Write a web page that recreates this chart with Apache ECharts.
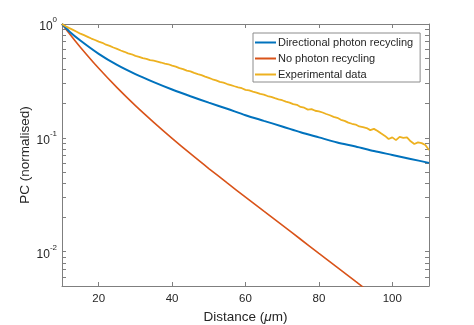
<!DOCTYPE html>
<html>
<head>
<meta charset="utf-8">
<script src="https://cdn.jsdelivr.net/npm/echarts@6/dist/echarts.min.js"></script>
<style>
  html, body { margin: 0; padding: 0; background: #ffffff; }
  #chart { width: 474px; height: 325px; }
</style>
</head>
<body>
<div id="chart"></div>
<script>
// Photocurrent decay with distance: two models and the measured profile.
const seriesNames = ['Directional photon recycling', 'No photon recycling', 'Experimental data'];
const seriesColors = ['#0072BD', '#D95319', '#EDB120'];

// Model: directional photon recycling
const directionalX = [10, 12, 15, 20, 25, 30, 35, 40, 45, 50, 55, 60, 65, 70, 75, 80, 85, 90, 95, 100, 105, 110];
const directional  = [1, 0.861, 0.716, 0.547, 0.437, 0.363, 0.309, 0.266, 0.232, 0.204, 0.180, 0.158,
                      0.141, 0.126, 0.112, 0.101, 0.0912, 0.0841, 0.0767, 0.0708, 0.0653, 0.0603];

// Model: no photon recycling
const noRecyclingX = [10, 12, 15, 20, 25, 30, 35, 40, 45, 50, 55, 60, 65, 70, 75, 80, 85, 90, 95, 100];
const noRecycling  = [1, 0.824, 0.625, 0.408, 0.276, 0.192, 0.137, 0.0991, 0.0726, 0.0538, 0.0402, 0.0302,
                      0.0227, 0.0171, 0.01287, 0.00968, 0.00729, 0.00548, 0.00413, 0.00310];

// Measured photocurrent profile
const experimentalX = [10, 11, 12, 13, 14, 15, 16, 17, 18, 19, 20, 21, 22, 23, 24, 25, 26, 27, 28, 29,
                       30, 31, 32, 33, 34, 35, 36, 37, 38, 39, 40, 41, 42, 43, 44, 45, 46, 47, 48, 49,
                       50, 51, 52, 53, 54, 55, 56, 57, 58, 59, 60, 61, 62, 63, 64, 65, 66, 67, 68, 69,
                       70, 71, 72, 73, 74, 75, 76, 77, 78, 79, 80, 81, 82, 83, 84, 85, 86, 87, 88, 89,
                       90, 91, 92, 93, 94, 95, 96, 97, 98, 99, 100, 101, 102, 103, 104, 105, 106, 107, 108, 109, 110];
const experimental  = [1.000, 0.955, 0.920, 0.887, 0.855, 0.822, 0.798, 0.771, 0.745, 0.724,
                       0.700, 0.684, 0.658, 0.643, 0.622, 0.605, 0.585, 0.570, 0.552, 0.542,
                       0.525, 0.515, 0.501, 0.494, 0.481, 0.476, 0.468, 0.459, 0.449, 0.443,
                       0.431, 0.423, 0.410, 0.402, 0.389, 0.384, 0.372, 0.363, 0.355, 0.345,
                       0.336, 0.327, 0.320, 0.310, 0.306, 0.297, 0.291, 0.284, 0.278, 0.273,
                       0.264, 0.261, 0.255, 0.250, 0.243, 0.240, 0.233, 0.229, 0.223, 0.218,
                       0.214, 0.208, 0.204, 0.198, 0.195, 0.187, 0.184, 0.177, 0.179, 0.173,
                       0.171, 0.167, 0.162, 0.158, 0.153, 0.150, 0.144, 0.141, 0.136, 0.133,
                       0.131, 0.126, 0.124, 0.122, 0.117, 0.120, 0.115, 0.109, 0.104, 0.0977,
                       0.101, 0.0955, 0.102, 0.100, 0.101, 0.0933, 0.0883, 0.0912, 0.0899, 0.0865, 0.0782];

// Axes
const xRange = [10, 110];
const xTicks = [20, 40, 60, 80, 100];
const yRange = [0.005, 1];
const yDecades = [0.01, 0.1, 1];
const yMinorTicks = [0.006, 0.007, 0.008, 0.009,
                     0.02, 0.03, 0.04, 0.05, 0.06, 0.07, 0.08, 0.09,
                     0.2, 0.3, 0.4, 0.5, 0.6, 0.7, 0.8, 0.9];

const FONT = '"Liberation Sans", Arial, Helvetica, sans-serif';
const AXIS_COLOR = '#7f7f7f';
const TEXT_COLOR = '#262626';

const pairs = (xs, ys) => xs.map((x, i) => [x, ys[i]]);

const tickStyle = { show: true, inside: true, length: 4, lineStyle: { color: AXIS_COLOR, width: 1 } };

function xAxisCfg(position, showLabels) {
  return {
    type: 'value', position, min: xRange[0], max: xRange[1],
    axisLine: { show: true, onZero: false, lineStyle: { color: AXIS_COLOR, width: 1 } },
    axisTick: Object.assign({ customValues: xTicks }, tickStyle),
    axisLabel: {
      show: showLabels, customValues: xTicks, margin: 7,
      color: TEXT_COLOR, fontFamily: FONT, fontSize: 11.5
    },
    splitLine: { show: false }
  };
}

function yAxisCfg(position, showLabels) {
  return {
    type: 'log', logBase: 10, position, min: yRange[0], max: yRange[1],
    axisLine: { show: true, onZero: false, lineStyle: { color: AXIS_COLOR, width: 1 } },
    axisTick: Object.assign({ customValues: yDecades.concat(yMinorTicks) }, tickStyle),
    axisLabel: {
      show: showLabels, customValues: yDecades, margin: 5,
      formatter: v => '{b|10}{s|' + Math.round(Math.log10(v)) + '}',
      rich: {
        b: { fontFamily: FONT, fontSize: 12, color: TEXT_COLOR, padding: [5, 0, 0, 0] },
        s: { fontFamily: FONT, fontSize: 8, color: TEXT_COLOR, padding: [0, 0, 8, 0] }
      }
    },
    splitLine: { show: false }
  };
}

const xMain = xAxisCfg('bottom', true);
xMain.name = 'Distance ({i|μ}m)';
xMain.nameLocation = 'middle';
xMain.nameGap = 24;
xMain.nameMoveOverlap = false;
xMain.nameTextStyle = {
  fontFamily: FONT, fontSize: 13.5, color: TEXT_COLOR,
  rich: { i: { fontFamily: FONT, fontSize: 13.5, fontStyle: 'italic', color: TEXT_COLOR } }
};

const yMain = yAxisCfg('left', true);
yMain.name = 'PC (normalised)';
yMain.nameLocation = 'middle';
yMain.nameGap = 30;
yMain.nameMoveOverlap = false;
yMain.nameTextStyle = { fontFamily: FONT, fontSize: 13.5, color: TEXT_COLOR };

const chart = echarts.init(document.getElementById('chart'), null, { renderer: 'canvas' });
chart.setOption({
  animation: false,
  backgroundColor: '#ffffff',
  grid: { left: 62, right: 45, top: 24, bottom: 39, containLabel: false, outerBoundsMode: 'none' },
  xAxis: [xMain, Object.assign(xAxisCfg('top', false), { gridIndex: 0 })],
  yAxis: [yMain, Object.assign(yAxisCfg('right', false), { gridIndex: 0 })],
  legend: {
    orient: 'vertical', left: 253, top: 33,
    data: seriesNames.map(name => ({ name, icon: 'rect' })),
    itemWidth: 21, itemHeight: 2, itemGap: 3,
    padding: [3, 7, 1, 2],
    borderColor: '#8c8c8c', borderWidth: 1, backgroundColor: '#ffffff',
    textStyle: { fontFamily: FONT, fontSize: 11, lineHeight: 13, color: TEXT_COLOR, padding: [0, 0, 0, -3] }
  },
  series: [
    {
      name: seriesNames[0], type: 'line', data: pairs(directionalX, directional),
      symbol: 'none', smooth: 0.3, color: seriesColors[0],
      lineStyle: { color: seriesColors[0], width: 2 }, z: 3
    },
    {
      name: seriesNames[1], type: 'line', data: pairs(noRecyclingX, noRecycling),
      symbol: 'none', smooth: 0.3, color: seriesColors[1],
      lineStyle: { color: seriesColors[1], width: 1.6 }, z: 2
    },
    {
      name: seriesNames[2], type: 'line', data: pairs(experimentalX, experimental),
      symbol: 'none', color: seriesColors[2],
      lineStyle: { color: seriesColors[2], width: 1.8 }, z: 4
    }
  ]
});
</script>
</body>
</html>
